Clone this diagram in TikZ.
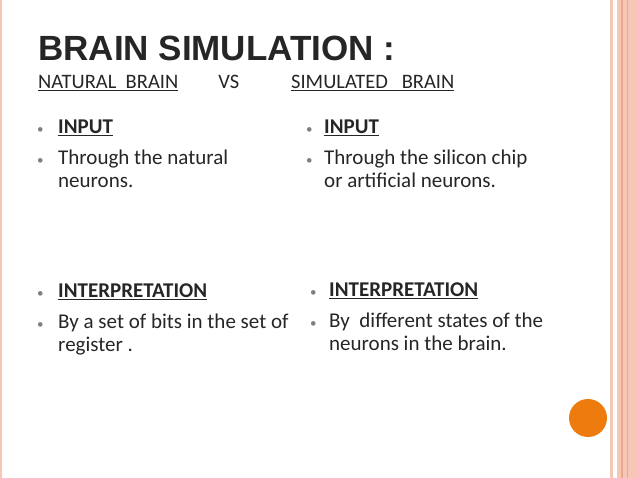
\documentclass[tikz,border=0pt]{standalone}
\usepackage{fontspec}
\setmainfont{Carlito}
\newfontfamily\titlefont{Liberation Sans}
\newcommand\myul[1]{\underline{#1}}
\definecolor{band}{HTML}{F6C6B6}
\definecolor{bandline}{HTML}{E8A98F}
\definecolor{dot}{HTML}{EE7B0E}
\definecolor{txt}{HTML}{262626}
\definecolor{bul}{HTML}{7F7F7F}
\begin{document}
\begin{tikzpicture}[x=1pt,y=-1pt,
  body/.style={anchor=base west,inner sep=0pt,text=txt,font=\fontsize{21}{24}\selectfont},
  bull/.style={anchor=base west,inner sep=0pt,text=bul,font=\fontsize{13}{15}\selectfont}]
\useasboundingbox (0,0) rectangle (638,478);
\fill[white] (0,0) rectangle (638,478);
\fill[band] (610,0) rectangle (613,478);
\fill[band] (617,0) rectangle (638,478);
\draw[bandline,line width=1.2] (622,0) -- (622,478);
\draw[bandline,line width=0.8] (627,0) -- (627,478);
\fill[band] (0,0) rectangle (1.5,478);
\fill[dot] (588,418) circle (19);
\node[anchor=base west,inner sep=0pt,text=txt,font=\titlefont\bfseries\fontsize{35}{38}\selectfont] (title) at (38,61) {BRAIN SIMULATION :};
\node[anchor=base west,inner sep=0pt,text=txt,font=\fontsize{20.5}{24}\selectfont] (sub) at (38,89) {\myul{NATURAL\ \ BRAIN}\hspace{40pt}VS\hspace{52pt}\myul{SIMULATED\ \ \ BRAIN}};
% left column
\node[bull] (b1) at (37,134) {•};
\node[body] (t1) at (58,134) {\textbf{\myul{INPUT}}};
\node[bull] (b2) at (37,165) {•};
\node[body] (t2) at (58,165) {Through the natural};
\node[body] (t2b) at (58,188) {neurons.};
\node[bull] (b3) at (37,298) {•};
\node[body] (t3) at (58,298) {\textbf{\myul{INTERPRETATION}}};
\node[bull] (b4) at (37,329) {•};
\node[body] (t4) at (58,329) {By a set of bits in the set of};
\node[body] (t4b) at (58,352) {register .};
% right column
\node[bull] (b5) at (306,134) {•};
\node[body] (t5) at (324,134) {\textbf{\myul{INPUT}}};
\node[bull] (b6) at (306,165) {•};
\node[body] (t6) at (324,165) {Through the silicon chip};
\node[body] (t6b) at (324,188) {or artificial neurons.};
\node[bull] (b7) at (310,297) {•};
\node[body] (t7) at (329,297) {\textbf{\myul{INTERPRETATION}}};
\node[bull] (b8) at (310,328) {•};
\node[body] (t8) at (329,328) {By\ \ different states of the};
\node[body] (t8b) at (329,351) {neurons in the brain.};
\end{tikzpicture}
\end{document}
